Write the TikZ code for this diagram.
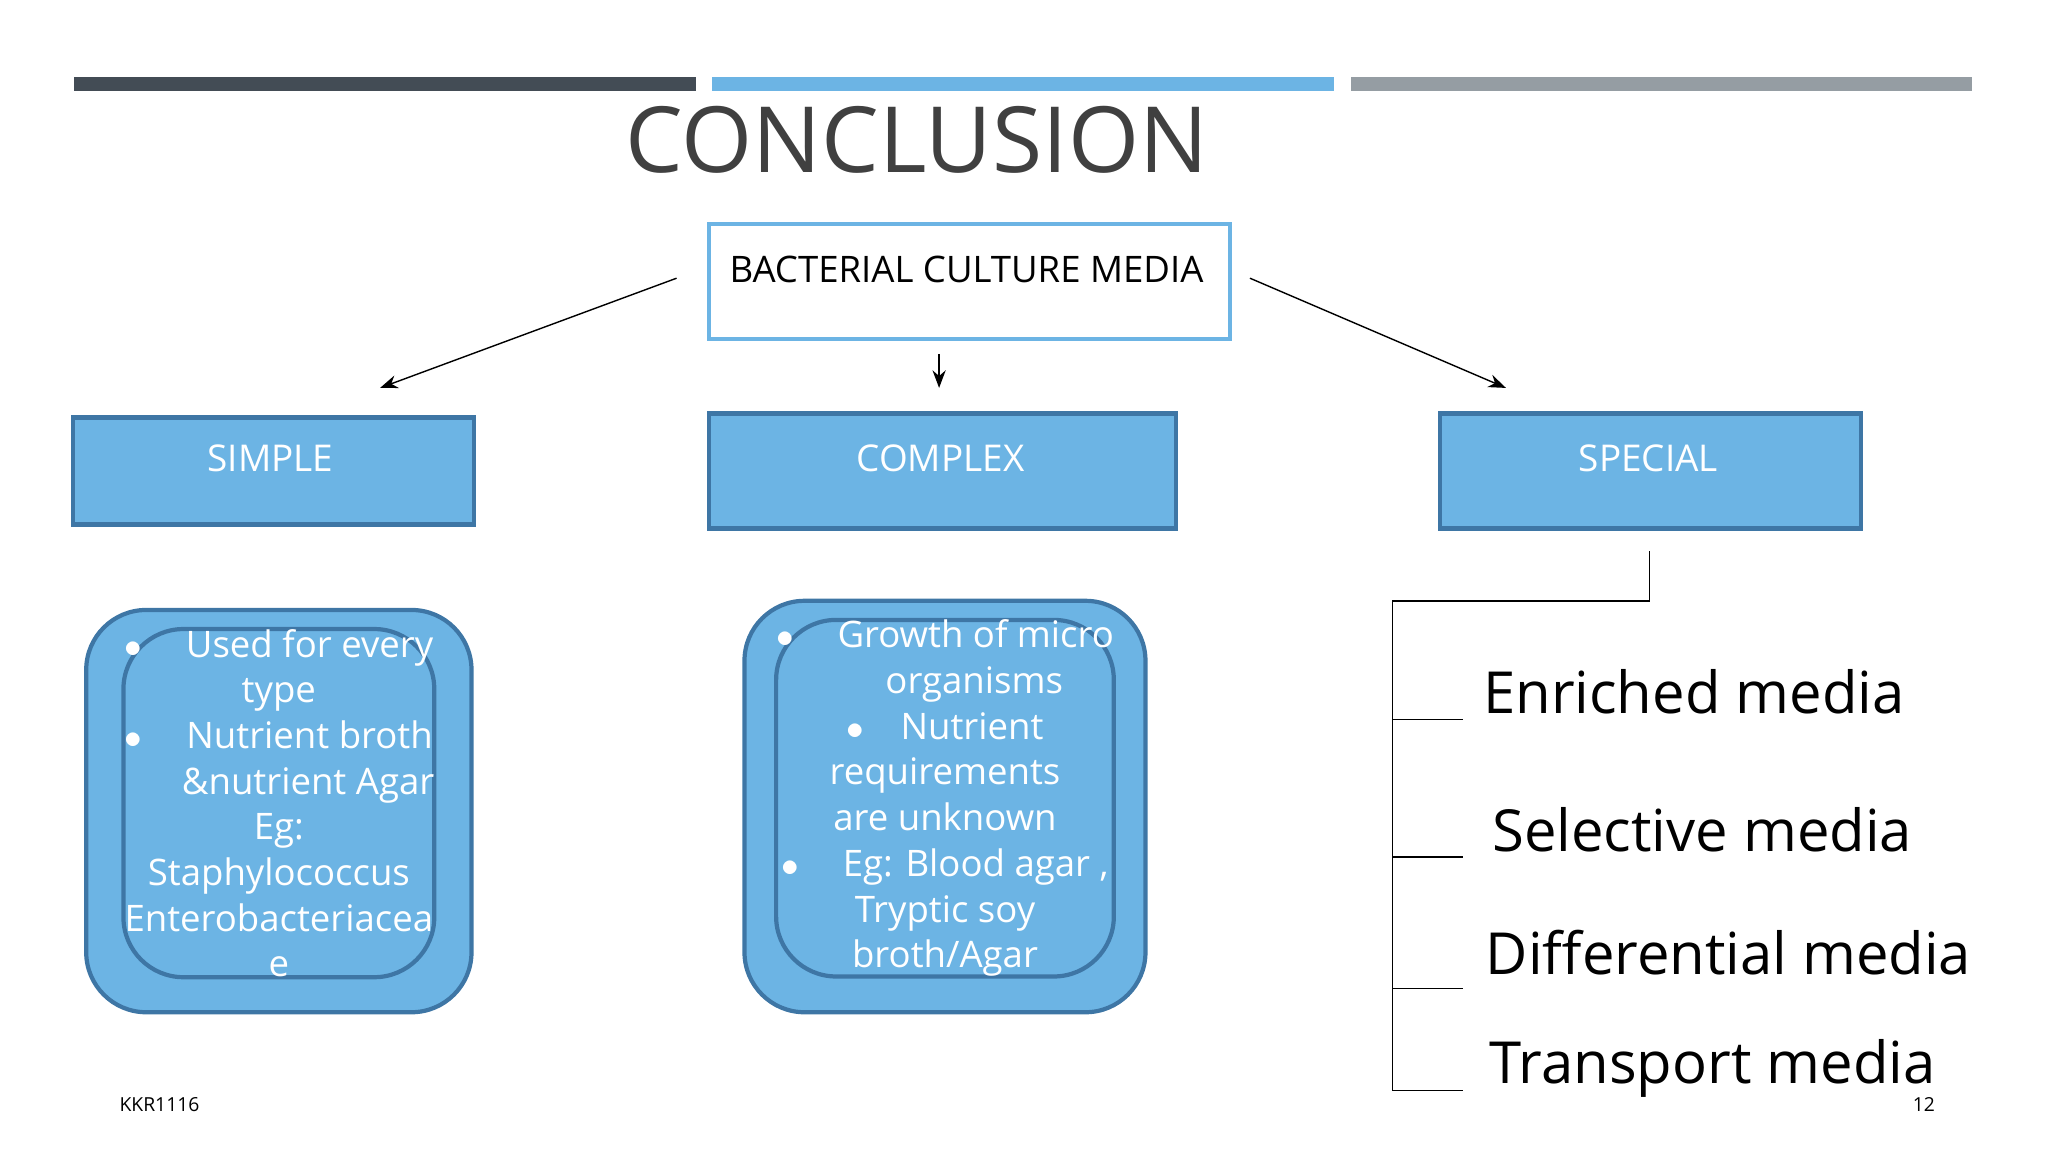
\documentclass[tikz,border=0pt]{standalone}
\usepackage{fontspec}
\setmainfont{Open Sans}
\usetikzlibrary{arrows.meta, positioning, calc}
\definecolor{bar_dark}{RGB}{67, 76, 85}
\definecolor{bar_blue}{RGB}{108, 180, 228}
\definecolor{bar_gray}{RGB}{149, 157, 163}
\definecolor{box_fill}{RGB}{108, 180, 228}
\definecolor{box_line}{RGB}{62, 118, 165}
\definecolor{title_gray}{RGB}{64, 64, 64}
\begin{document}
\begin{tikzpicture}[x=0.01306cm, y=-0.01306cm,
    kind/.style={draw=box_line, fill=box_fill, line width=1.2pt, text=white,
                 font=\fontsize{10.5}{13}\selectfont, anchor=north west, inner sep=0pt},
    info/.style={draw=box_line, fill=box_fill, line width=1.2pt, rounded corners=0.6cm,
                 text=white, align=center, font=\fontsize{10.4}{13}\selectfont},
    medium/.style={anchor=west, font=\fontsize{16.5}{20}\selectfont, inner sep=0pt},
    arr/.style={-{Stealth[length=5pt]}, thin}]
  \useasboundingbox (0,0) rectangle (1568,882);
  % header bars and title
  \fill[bar_dark] (57,59) rectangle (533,70);
  \fill[bar_blue] (545,59) rectangle (1021,70);
  \fill[bar_gray] (1034,59) rectangle (1510,70);
  \node[text=title_gray, font=\fontsize{26}{30}\selectfont] (title) at (702,107) {CONCLUSION};
  % root
  \node[draw=bar_blue, line width=1.2pt, minimum width=399*0.01306cm, minimum height=88*0.01306cm,
        font=\fontsize{10.4}{13}\selectfont, anchor=north west, inner sep=0pt] (root) at (541,170) {};
  \node[font=\fontsize{10.4}{13}\selectfont] (rootlbl) at (740,206) {BACTERIAL CULTURE MEDIA};
  % kinds
  \node[kind, minimum width=307*0.01306cm, minimum height=82*0.01306cm] (simple) at (54,318) {};
  \node[kind, minimum width=358*0.01306cm, minimum height=88*0.01306cm] (complex) at (541,315) {};
  \node[kind, minimum width=322*0.01306cm, minimum height=88*0.01306cm] (special) at (1101,315) {};
  \node[text=white, font=\fontsize{10.5}{13}\selectfont] at (207,351) {SIMPLE};
  \node[text=white, font=\fontsize{10.5}{13}\selectfont] at (720,351) {COMPLEX};
  \node[text=white, font=\fontsize{10.5}{13}\selectfont] at (1262,351) {SPECIAL};
  % arrows
  \coordinate (s1) at (518,213); \coordinate (e1) at (291,297);
  \coordinate (s2) at (719,271); \coordinate (e2) at (719,297);
  \coordinate (s3) at (957,213); \coordinate (e3) at (1153,297);
  \draw[arr] (s1) -- (e1);
  \draw[arr] (s2) -- (e2);
  \draw[arr] (s3) -- (e3);
  % detail boxes
  \node[info, minimum width=295*0.01306cm, minimum height=308*0.01306cm] (simplebox) at (213.5,621) {};
  \node[info, anchor=north, inner sep=0pt] (simpletxt) at (213.5,480)
    {$\bullet$\hspace{1.2em}Used for every\\ type\\ $\bullet$\hspace{1.2em}Nutrient broth\\
     \hspace{1.6em}\&nutrient Agar\\ Eg:\\ Staphylococcus\\ Enterobacteriacea\\ e};
  \node[info, minimum width=307*0.01306cm, minimum height=315*0.01306cm] (complexbox) at (723.5,617.5) {};
  \node[info, anchor=north, inner sep=0pt] (complextxt) at (723.5,473)
    {$\bullet$\hspace{1.2em}Growth of micro\\ \hspace{1.6em}organisms\\ $\bullet$\hspace{1em}Nutrient\\
     requirements\\ are unknown\\ $\bullet$\hspace{1.2em}Eg: Blood agar ,\\ Tryptic soy\\ broth/Agar};
  \path (simpletxt) (complextxt);
  % special bracket
  \coordinate (b0) at (1263,422);
  \coordinate (b1) at (1263,460);
  \coordinate (b2) at (1066,460);
  \coordinate (b3) at (1066,835);
  \draw (b0) -- (b1) -- (b2) -- (b3);
  \foreach \y/\n in {551/t1, 656/t2, 757/t3, 835/t4}
    \draw (1066,\y) -- (1120,\y);
  \node[medium] (enriched) at (1135,530) {Enriched media};
  \node[medium] (selective) at (1142,635) {Selective media};
  \node[medium] (differential) at (1137,729) {Differential media};
  \node[medium] (transport) at (1140,818) {Transport media};
  % footer
  \node[font=\fontsize{5.5}{7}\selectfont, anchor=west] (foot) at (82,846) {KKR1116};
  \node[font=\fontsize{5.5}{7}\selectfont] (page) at (1473,846) {12};
\end{tikzpicture}
\end{document}
